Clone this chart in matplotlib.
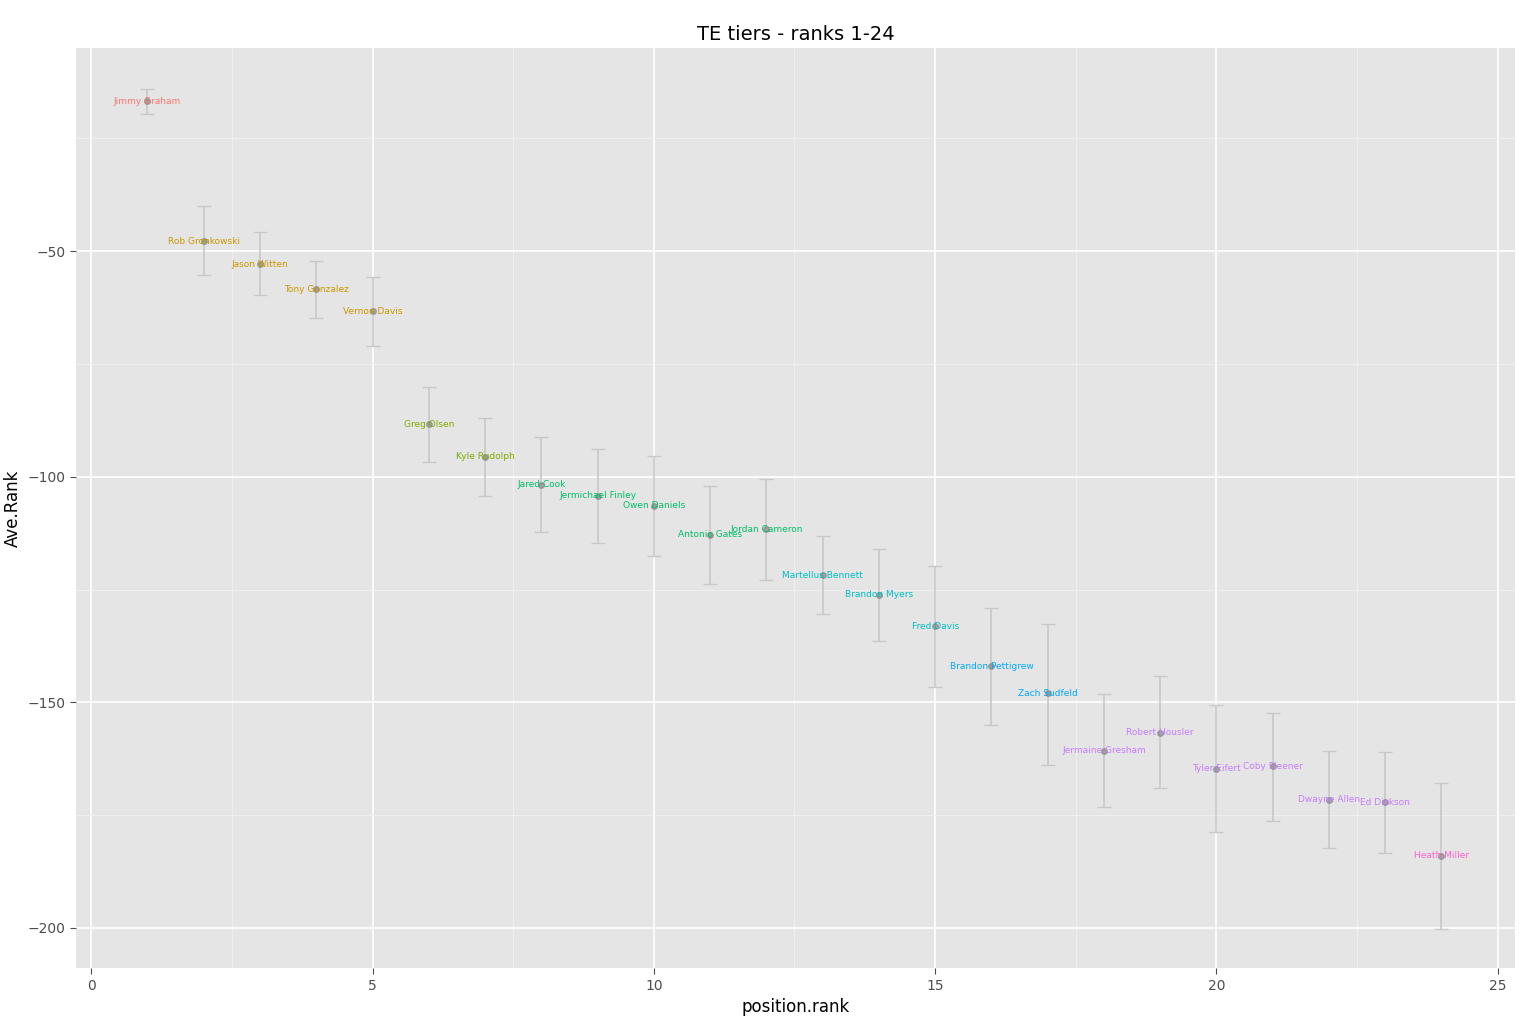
import numpy as np
import matplotlib.pyplot as plt

names = ["Jimmy Graham", "Rob Gronkowski", "Jason Witten", "Tony Gonzalez", "Vernon Davis",
         "Greg Olsen", "Kyle Rudolph", "Jared Cook", "Jermichael Finley", "Owen Daniels",
         "Antonio Gates", "Jordan Cameron", "Martellus Bennett", "Brandon Myers", "Fred Davis",
         "Brandon Pettigrew", "Zach Sudfeld", "Jermaine Gresham", "Robert Housler", "Tyler Eifert",
         "Coby Fleener", "Dwayne Allen", "Ed Dickson", "Heath Miller"]
pos_rank = np.arange(1, 25)
ave_rank = [-16.7, -47.8, -52.9, -58.4, -63.3, -88.4, -95.6, -101.8, -104.2, -106.4,
            -112.9, -111.6, -121.8, -126.2, -133.1, -142.0, -148.0, -160.7, -156.7, -164.7,
            -164.2, -171.6, -172.2, -184.0]
err_top = [-14, -40, -45.8, -52.2, -55.8, -80.2, -86.9, -91.1, -93.8, -95.3,
           -102, -100.4, -113.1, -116, -119.8, -129.1, -132.7, -148.2, -144.2, -150.7,
           -152.4, -160.7, -161.1, -167.8]
err_bot = [-19.6, -55.3, -59.8, -64.9, -71.1, -96.7, -104.2, -112.2, -114.7, -117.6,
           -123.8, -122.9, -130.4, -136.4, -146.7, -155.1, -163.8, -173.3, -169.1, -178.7,
           -176.2, -182.2, -183.3, -200.2]
tier = [1, 2, 2, 2, 2, 3, 3, 4, 4, 4, 4, 4, 5, 5, 5, 6, 6, 7, 7, 7, 7, 7, 7, 8]
tier_colors = {1: "#F8766D", 2: "#CD9600", 3: "#7CAE00", 4: "#00BE67", 5: "#00BFC4",
               6: "#00A9FF", 7: "#C77CFF", 8: "#FF61CC"}

fig, ax = plt.subplots(figsize=(15.33, 10.27), dpi=100)
fig.subplots_adjust(left=0.0496, right=0.988, top=0.953, bottom=0.057)
ax.set_facecolor("#E5E5E5")
ax.set_xticks(np.arange(2.5, 25, 5), minor=True)
ax.set_yticks(np.arange(-225, 0, 25), minor=True)
ax.grid(True, which="major", color="white", lw=1.2)
ax.grid(True, which="minor", color="#F2F2F2", lw=0.6)
ax.tick_params(which="minor", length=0)
ax.set_axisbelow(True)
for s in ax.spines.values():
    s.set_visible(False)

ax.errorbar(pos_rank, ave_rank,
            yerr=[np.array(ave_rank) - np.array(err_bot), np.array(err_top) - np.array(ave_rank)],
            fmt="none", ecolor="#C8C8C8", elinewidth=1.2, capsize=5)
for x, y, n, t in zip(pos_rank, ave_rank, names, tier):
    ax.plot(x, y, "o", color="#888888", ms=4, alpha=0.7)
    ax.text(x, y, n, color=tier_colors[t], fontsize=6.5, ha="center", va="center")

ax.set_xlim(-0.27, 25.3)
ax.set_ylim(-209, -5)
ax.set_xticks([0, 5, 10, 15, 20, 25])
ax.set_yticks([-50, -100, -150, -200])
ax.tick_params(which="major", colors="#4D4D4D", labelsize=10, length=4)
ax.set_xlabel("position.rank", fontsize=12)
ax.set_ylabel("Ave.Rank", fontsize=12)
ax.set_title("TE tiers - ranks 1-24", fontsize=14)
fig.savefig("out.png")
